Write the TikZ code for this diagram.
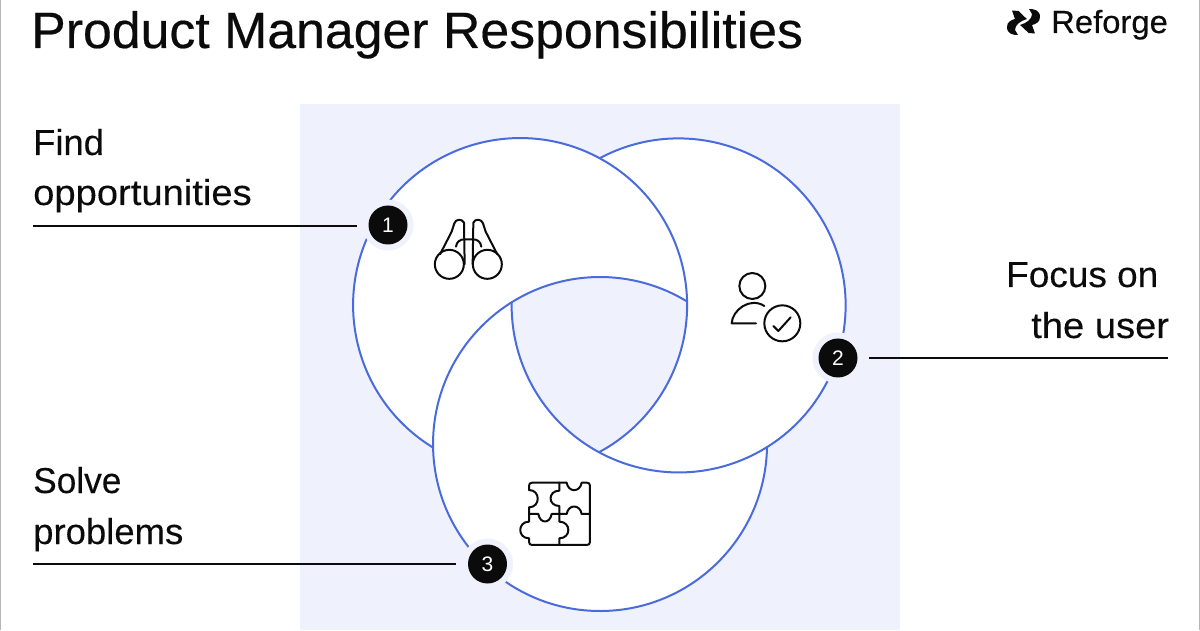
\documentclass[tikz,border=0pt]{standalone}
\usepackage{fontspec}
\setmainfont{Liberation Sans}
\newfontfamily\titlefont[FakeStretch=1.016,FakeBold=0.35]{Liberation Sans}
\newfontfamily\labfont[FakeBold=0.15]{Liberation Sans}
\newfontfamily\brandfont[FakeStretch=1.025,FakeBold=0.4]{Liberation Sans}
\definecolor{lav}{HTML}{EFF1FD}
\definecolor{ringblue}{HTML}{4A6BDC}
\definecolor{ink}{HTML}{0B0B0B}
\definecolor{edge}{HTML}{B4B8B6}
\tikzset{
  ring/.style={draw=ringblue,line width=2pt},
  badge/.style={circle,fill=ink,text=white,minimum size=39pt,inner sep=0pt,font=\fontsize{21}{21}\selectfont},
  halo/.style={fill=lav,draw=none},
  leader/.style={draw=ink,line width=1.6pt},
  icon/.style={draw=ink,line width=2pt,line cap=round,line join=round},
  lab/.style={inner sep=0pt,text=ink,anchor=base west,transform shape,font=\labfont\fontsize{36}{36}\selectfont},
  logopart/.pic={\fill[ink] (5.5,13) .. controls (10.5,13) and (16.5,12) .. (16.5,5) .. controls (16.5,0) and (12.5,-2) .. (8.5,-3) -- (11.5,-11.5) -- (5,-11) .. controls (2,-8) and (-1,-5) .. (-3.5,-3) .. controls (3.5,-1) and (8.5,3) .. (8.5,8) -- cycle;},
}
\begin{document}
\begin{tikzpicture}[x=1pt,y=1pt]
\useasboundingbox (0,0) rectangle (1200,630);
\fill[white] (0,0) rectangle (1200,630);
\fill[edge] (0,0) rectangle (1.2,630);
\fill[edge] (1198.8,0) rectangle (1200,630);
\fill[lav] (300,0) rectangle (900,526);
% discs
\fill[white] (520,325) circle[radius=167pt];
\fill[white] (678.5,324.5) circle[radius=167pt];
\fill[white] (600,186) circle[radius=167pt];
\begin{scope}
\clip (520,325) circle[radius=167pt];
\clip (678.5,324.5) circle[radius=167pt];
\fill[lav] (600,186) circle[radius=167pt];
\end{scope}
% arcs
\draw[ring] (433.1,182.4) arc[start angle=238.6,end angle=-61.8,radius=167pt];
\draw[ring] (599.7,471.75) arc[start angle=118.2,end angle=-181.1,radius=167pt];
\draw[ring] (767,182.9) arc[start angle=-1.06,end angle=-301.4,radius=167pt];
% title
\node[inner sep=0pt,anchor=base west,text=ink,font=\titlefont\fontsize{51}{51}\selectfont] (title) at (31,582) {Product Manager Responsibilities};
\node[inner sep=0pt,anchor=base west,text=ink,font=\brandfont\fontsize{32}{32}\selectfont] (brand) at (1051,597) {Reforge};
% logo
\pic at (1023.5,608) {logopart};
\pic[rotate=180] at (1023.5,608) {logopart};
% labels
\node[lab,xscale=1.01] (l1a) at (33,475) {Find};
\node[lab,xscale=1.06] (l1b) at (33,425) {opportunities};
\node[lab,xscale=1.027] (l2a) at (1006,343) {Focus on};
\node[lab,xscale=1.06] (l2b) at (1031,292) {the user};
\node[lab,xscale=0.98] (l3a) at (33,137) {Solve};
\node[lab,xscale=1.014] (l3b) at (33,86) {problems};
% badges
\fill[halo] (388,405) circle[radius=25.5pt];
\fill[halo] (838,272) circle[radius=25.5pt];
\fill[halo] (487.5,66) circle[radius=25.5pt];
\node[badge] (b1) at (388,405) {1};
\node[badge] (b2) at (838,272) {2};
\node[badge] (b3) at (487.5,66) {3};
\coordinate (e1) at (33,404);
\coordinate (e2) at (1168,272);
\coordinate (e3) at (33,66);
\coordinate (s1) at (357,404);
\coordinate (s2) at (869,272);
\coordinate (s3) at (456,66);
\draw[leader] (e1) -- (s1);
\draw[leader] (s2) -- (e2);
\draw[leader] (e3) -- (s3);
% binoculars
\begin{scope}[shift={(420,430)},x=0.3333pt,y=-0.3333pt]
\draw[icon] (88,193) circle[radius=14.5pt];
\draw[icon] (202,193) circle[radius=14.5pt];
\draw[icon] (60,163) -- (95,95) -- (103,70) .. controls (107,57) and (125,55) .. (132,68) -- (134,193);
\draw[icon] (232,163) -- (197,95) -- (189,70) .. controls (185,57) and (165,55) .. (160,68) -- (158,193);
\draw[icon] (108,140) .. controls (110,125) and (120,118) .. (134,118) -- (158,118) .. controls (172,118) and (182,125) .. (184,140);
\end{scope}
% user
\begin{scope}[shift={(720,370)},x=0.3333pt,y=-0.3333pt]
\draw[icon] (97,78) circle[radius=13pt];
\draw[icon] (108,190) -- (35,190) .. controls (37,150) and (90,110) .. (133,138);
\draw[icon] (187,190) circle[radius=18pt];
\draw[icon] (160,198) -- (175,213) -- (212,172);
\end{scope}
% puzzle
\begin{scope}[shift={(510,160)},x=0.3333pt,y=-0.3333pt]
\draw[icon] (57,60) -- (57,48) .. controls (57,41) and (60,38) .. (67,38) -- (170,38) .. controls (175,68) and (210,68) .. (215,38) -- (230,38) .. controls (237,38) and (240,41) .. (240,48) -- (240,215) .. controls (240,222) and (237,225) .. (230,225) -- (67,225) .. controls (60,225) and (57,222) .. (57,215) -- (57,205);
\draw[icon] (57,60) .. controls (92,60) and (92,112) .. (57,112) -- (57,155) .. controls (22,155) and (22,205) .. (57,205);
\draw[icon] (148,38) -- (148,62) .. controls (113,62) and (113,108) .. (148,108) -- (148,155) .. controls (184,155) and (184,205) .. (148,205) -- (148,225);
\draw[icon] (57,132) -- (85,132) .. controls (90,162) and (120,162) .. (125,132) -- (170,132) .. controls (175,102) and (210,102) .. (215,132) -- (240,132);
\end{scope}
\end{tikzpicture}
\end{document}
